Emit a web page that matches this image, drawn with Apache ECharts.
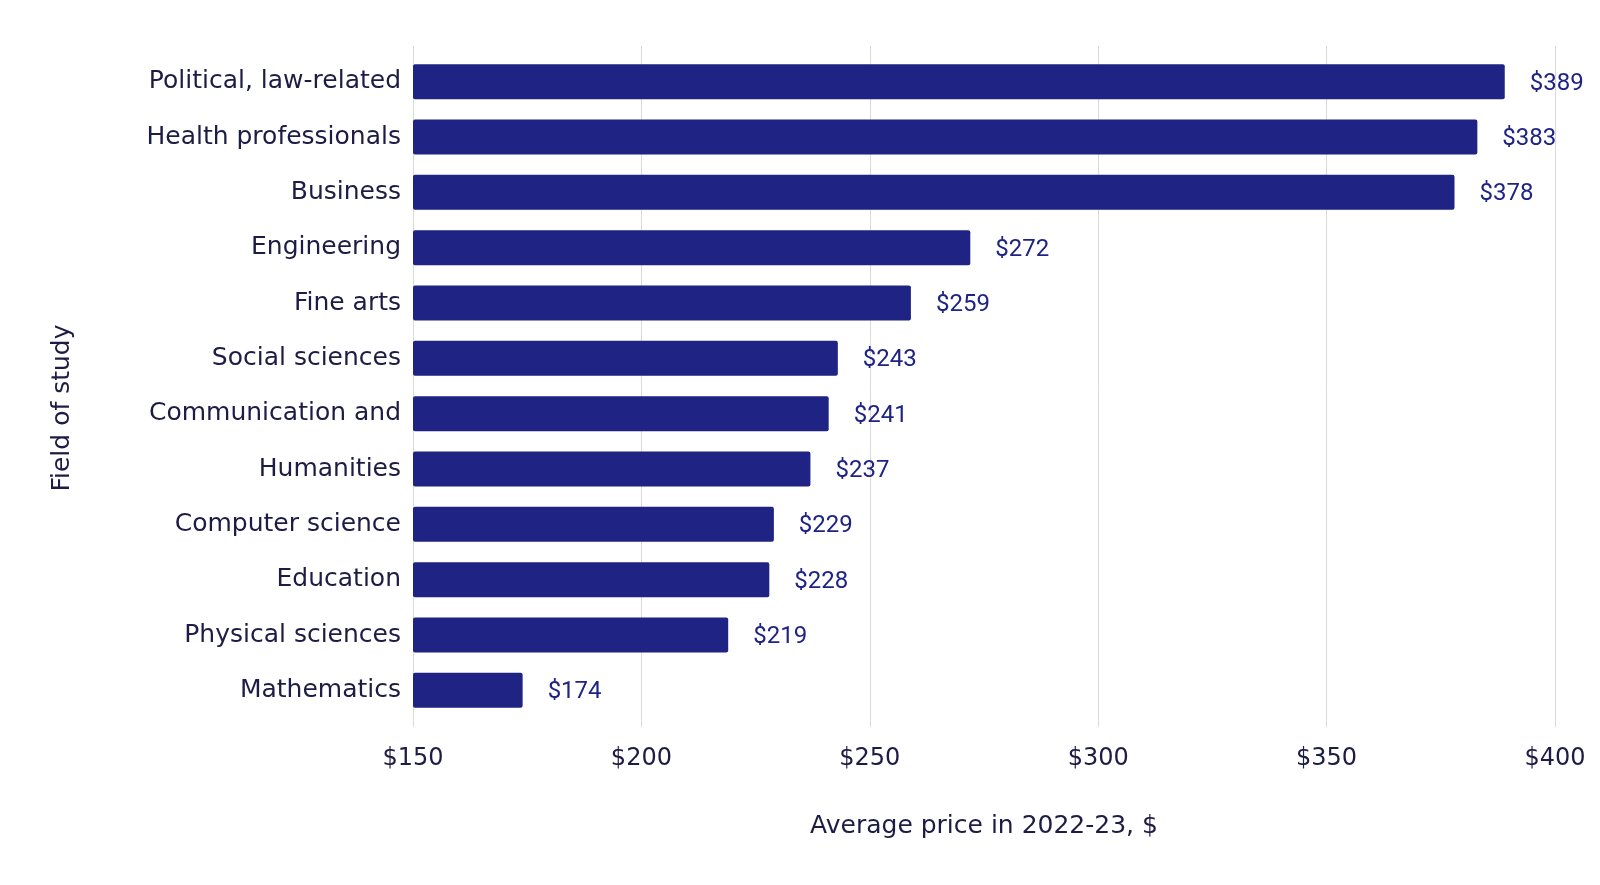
<!DOCTYPE html>
<html>
<head>
<meta charset="utf-8">
<script src="https://cdn.jsdelivr.net/npm/echarts@6/dist/echarts.min.js"></script>
<style>
  html, body { margin: 0; padding: 0; background: #fff; }
  #chart { width: 1600px; height: 885px; }
</style>
</head>
<body>
<div id="chart"></div>
<script>
// Data (top to bottom as shown)
const fields = [
    "Political, law-related", "Health professionals", "Business", "Engineering",
    "Fine arts", "Social sciences", "Communication and", "Humanities",
    "Computer science", "Education", "Physical sciences", "Mathematics"
];
const prices = [389, 383, 378, 272, 259, 243, 241, 237, 229, 228, 219, 174];
const xTicks = [150, 200, 250, 300, 350, 400];

const navy = "#1e2384";
const textColor = "#1c1c44";
const font = "DejaVu Sans";

const chart = echarts.init(document.getElementById("chart"));
const option = {
    animation: false,
    grid: [
        // bars
        { left: 413, right: 45, top: 54, bottom: 167 },
        // gridlines only (they run a little past the bars)
        { left: 413, right: 45, top: 46, bottom: 158 }
    ],
    xAxis: [{
        gridIndex: 0,
        type: "value",
        min: xTicks[0],
        max: xTicks[xTicks.length - 1],
        interval: 50,
        axisLine: { show: false },
        axisTick: { show: false },
        splitLine: { show: false },
        axisLabel: {
            formatter: v => "$" + v,
            fontFamily: font,
            fontSize: 24,
            color: textColor,
            margin: 29
        },
        name: "Average price in 2022-23, $",
        nameLocation: "middle",
        nameGap: 96,
        nameTextStyle: { fontFamily: font, fontSize: 25, color: textColor }
    }, {
        gridIndex: 1,
        type: "value",
        min: xTicks[0],
        max: xTicks[xTicks.length - 1],
        interval: 50,
        axisLine: { show: false },
        axisTick: { show: false },
        axisLabel: { show: false },
        splitLine: { show: true, lineStyle: { color: "#d9d9d9", width: 1 } }
    }],
    yAxis: [{
        gridIndex: 0,
        type: "category",
        inverse: true,
        data: fields,
        axisLine: { show: false },
        axisTick: { show: false },
        axisLabel: {
            fontFamily: font,
            fontSize: 25,
            color: textColor,
            margin: 12,
            padding: [4, 0, 0, 0]
        }
    }, {
        gridIndex: 1,
        type: "value",
        show: false
    }],
    graphic: [{
        type: "text",
        x: 62,
        y: 408,
        rotation: Math.PI / 2,
        style: {
            text: "Field of study",
            fontFamily: font,
            fontSize: 25,
            fill: textColor,
            align: "center",
            verticalAlign: "middle"
        }
    }],
    series: [{
        type: "bar",
        xAxisIndex: 0,
        yAxisIndex: 0,
        data: prices,
        barWidth: 35,
        z: 3,
        itemStyle: { color: navy, borderRadius: 2 },
        label: {
            show: true,
            position: "right",
            distance: 25,
            offset: [0, 2],
            formatter: p => "$" + p.value,
            fontFamily: "Roboto",
            fontSize: 24,
            color: navy
        }
    }]
};
chart.setOption(option);
</script>
</body>
</html>
